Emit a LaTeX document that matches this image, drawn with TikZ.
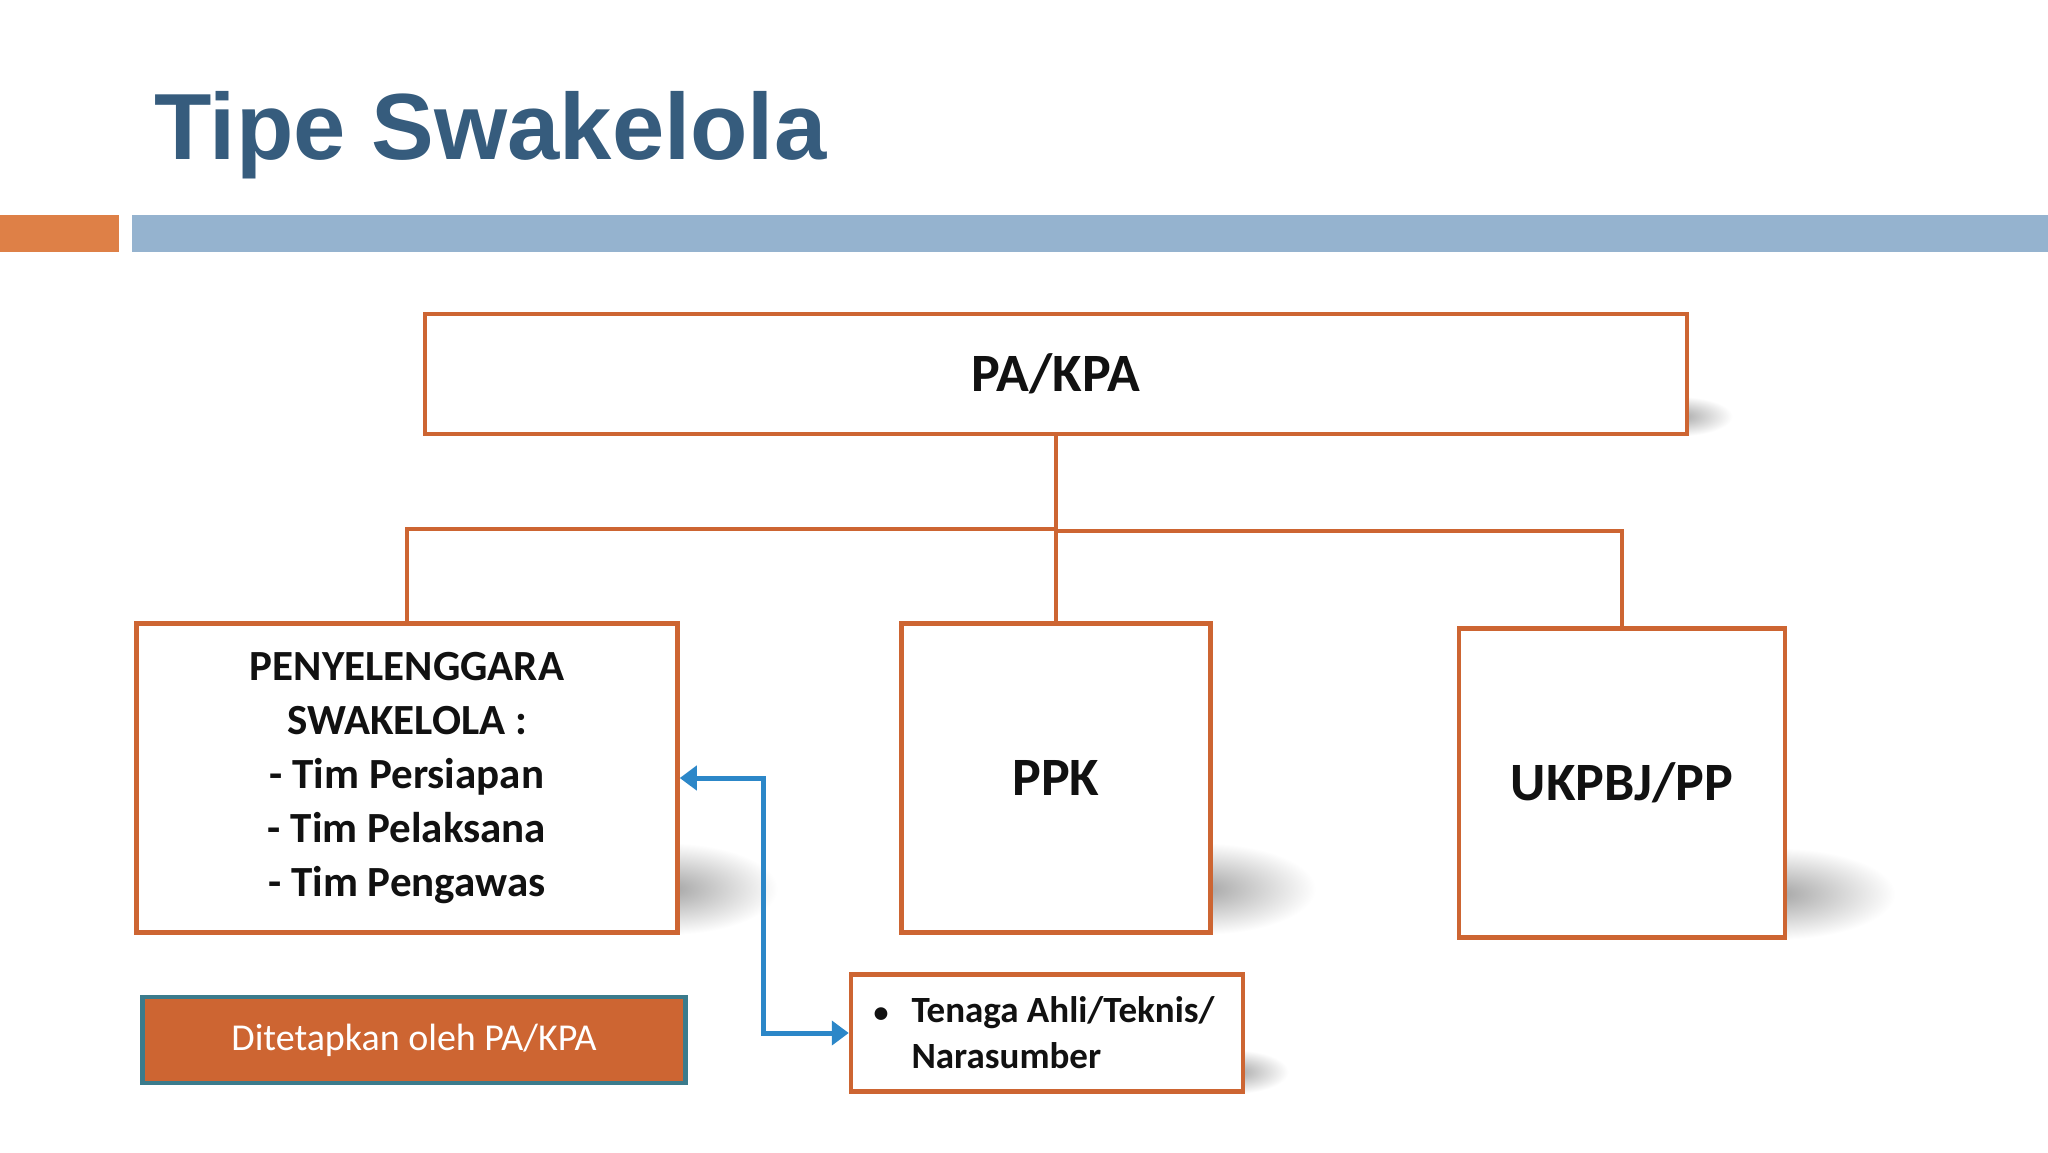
\documentclass[tikz,border=0pt]{standalone}
\usepackage{fontspec}
\setmainfont{Carlito}
\newfontfamily\headfont{Liberation Sans}
\usetikzlibrary{arrows.meta,backgrounds}
\definecolor{ink}{HTML}{111111}
\definecolor{rust}{HTML}{CD6532}
\definecolor{headblue}{HTML}{365C7D}
\definecolor{barblue}{HTML}{95B3CF}
\definecolor{barorange}{HTML}{DE8047}
\definecolor{tealedge}{HTML}{3B7B8C}
\definecolor{link}{HTML}{2C87C8}
\definecolor{shd}{HTML}{A4A4A4}

\begin{document}
\begin{tikzpicture}[x=1pt,y=-1pt,
  box/.style={draw=rust,line width=4.5pt,fill=white,align=center,inner sep=0pt,text=ink,font=\bfseries\fontsize{54}{60}\selectfont},
  tag/.style={draw=tealedge,line width=4.5pt,fill=rust,text=white,inner sep=0pt,font=\fontsize{38}{44}\selectfont},
  conn/.style={draw=rust,line width=4pt},
  linkarr/.style={{Triangle[length=17pt,width=24pt]}-{Triangle[length=17pt,width=24pt]},draw=link,line width=5pt}]
  \useasboundingbox (0,0) rectangle (2048,1152);
  % header
  \node[font=\headfont\bfseries\fontsize{94}{100}\selectfont,text=headblue,anchor=base west,inner sep=0pt] (title) at (154,159) {Tipe Swakelola};
  \fill[barorange] (0,215) rectangle (119,252);
  \fill[barblue] (132,215) rectangle (2048,252);
  % boxes
  \node[box,minimum width=1262pt,minimum height=120pt] (pakpa) at (1056,374) {PA/KPA};
  \node[box,minimum width=541pt,minimum height=309pt,font=\bfseries\fontsize{43}{54}\selectfont] (penyel) at (407,778) {PENYELENGGARA\\SWAKELOLA :\\- Tim Persiapan\\- Tim Pelaksana\\- Tim Pengawas};
  \node[box,minimum width=309pt,minimum height=309pt] (ppk) at (1056,778) {PPK};
  \node[box,minimum width=326pt,minimum height=309pt] (ukpbj) at (1622,783) {UKPBJ/PP};
  \node[box,minimum width=392pt,minimum height=117pt,align=left,font=\bfseries\fontsize{37}{46}\selectfont] (tenaga) at (1047,1033) {\makebox[32pt][l]{\hspace*{-6pt}\fontsize{30}{30}\selectfont\textbullet}Tenaga Ahli/Teknis/\\\hspace*{32pt}Narasumber};
  \node[tag,minimum width=543pt,minimum height=86pt] (tetap) at (414,1040) {Ditetapkan oleh PA/KPA};
  % shadows
  \begin{scope}[on background layer]
    \foreach \n/\rx/\ry in {pakpa/55/20,penyel/110/46,ppk/115/46,ukpbj/120/46,tenaga/55/22}
      \shade[inner color=shd,outer color=white] ([shift={(-12,-\ry)}]\n.south east) +(-\rx,-\ry) rectangle +(\rx,\ry);
  \end{scope}
  % tree
  \draw[conn] (pakpa.south) -- ++(0,93) -| (penyel.north);
  \draw[conn] (pakpa.south) -- (ppk.north);
  \draw[conn] (pakpa.south) ++(0,95) -| (ukpbj.north);
  \draw[linkarr] (tenaga.west) -- ++(-85,0) |- (penyel.east);
\end{tikzpicture}
\end{document}
